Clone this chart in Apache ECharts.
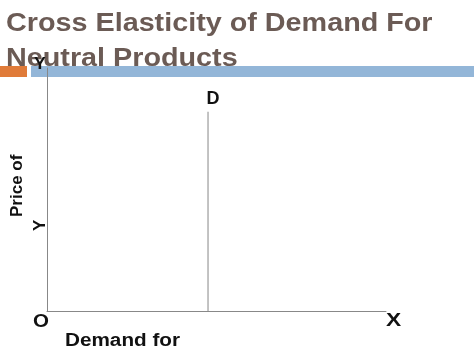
<!DOCTYPE html>
<html><head><meta charset="utf-8">
<script src="https://cdn.jsdelivr.net/npm/echarts@6/dist/echarts.min.js"></script>
<style>html,body{margin:0;padding:0;background:#fff}#c{width:474px;height:355px}</style>
</head><body><div id="c"></div>
<script>
const titleLines = ["Cross Elasticity of Demand For", "Neutral Products"];
const xAxisName = "X";
const yAxisName = "Y";
const originLabel = "O";
const xTitle = "Demand for";
const yTitleLines = ["Price of", "Y"];
const curveName = "D";
const demandX = [47.5, 47.5];
const demandY = [0, 82];

const chart = echarts.init(document.getElementById('c'), null, {renderer: 'canvas'});
const font = '"Liberation Sans", Arial, sans-serif';
const bold = (size, color) => ({fontFamily: font, fontWeight: 'bold', fontSize: size, fill: color || '#111', verticalAlign: 'top', align: 'left'});
chart.setOption({
  animation: false,
  backgroundColor: '#fff',
  grid: {left: 47, right: 88, top: 68, bottom: 44},
  xAxis: {
    type: 'value', min: 0, max: 100,
    axisLine: {show: true, lineStyle: {color: '#888', width: 1}},
    axisTick: {show: false}, axisLabel: {show: false}, splitLine: {show: false}
  },
  yAxis: {
    type: 'value', min: 0, max: 100,
    axisLine: {show: true, lineStyle: {color: '#888', width: 1}},
    axisTick: {show: false}, axisLabel: {show: false}, splitLine: {show: false}
  },
  graphic: [
    {type: 'rect', z: -1, shape: {x: 0, y: 66, width: 27, height: 11}, style: {fill: '#e07b39'}},
    {type: 'rect', z: -1, shape: {x: 31, y: 66, width: 443, height: 11}, style: {fill: '#93b6d8'}},
    {type: 'text', z: 0, x: 6, y: 12, scaleX: 1.15, style: Object.assign(bold(25, '#6b5b55'), {text: titleLines[0]})},
    {type: 'text', z: 0, x: 6, y: 47, scaleX: 1.15, style: Object.assign(bold(25, '#6b5b55'), {text: titleLines[1]})},
    {type: 'text', z: 10, x: 34, y: 57, scaleX: 1.1, style: Object.assign(bold(16), {text: yAxisName})},
    {type: 'text', z: 10, x: 386, y: 311, scaleX: 1.2, style: Object.assign(bold(19), {text: xAxisName})},
    {type: 'text', z: 10, x: 33, y: 312, scaleX: 1.08, style: Object.assign(bold(19), {text: originLabel})},
    {type: 'text', z: 10, x: 65, y: 332, scaleX: 1.15, style: Object.assign(bold(18), {text: xTitle})},
    {type: 'text', z: 10, x: 9, y: 217, rotation: Math.PI / 2, style: Object.assign(bold(17), {text: yTitleLines[0]})},
    {type: 'text', z: 10, x: 32, y: 231, rotation: Math.PI / 2, style: Object.assign(bold(17), {text: yTitleLines[1]})}
  ],
  series: [{
    type: 'line', z: 3,
    data: demandX.map((x, i) => [x, demandY[i]]),
    showSymbol: true, symbol: 'circle', symbolSize: 1,
    itemStyle: {color: 'rgba(0,0,0,0)'},
    lineStyle: {color: '#888', width: 1},
    label: {
      show: true, position: 'top', distance: 3,
      formatter: p => (p.dataIndex === demandY.length - 1 ? curveName : ''),
      fontFamily: font, fontWeight: 'bold', fontSize: 18, color: '#111', offset: [5, 0]
    }
  }]
});
</script></body></html>
